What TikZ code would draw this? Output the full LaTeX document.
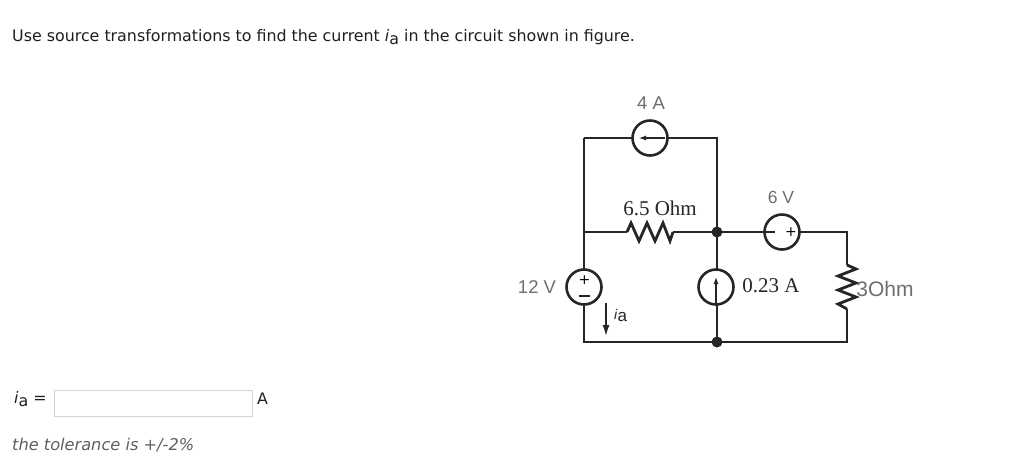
\documentclass[tikz,border=0pt]{standalone}
\usepackage{fontspec}
\usetikzlibrary{arrows.meta}
\setmainfont{DejaVu Sans}
\newfontfamily\labelserif{Liberation Serif}
\newfontfamily\labelsans{Liberation Sans}
\definecolor{wirecol}{HTML}{262626}
\definecolor{labgray}{HTML}{6E6E6E}
\definecolor{boxgray}{HTML}{D4D4D4}
\tikzset{
  wire/.style={draw=wirecol,line width=2.8pt},
  src/.style={circle,draw=wirecol,line width=2.6pt,fill=white,minimum size=35pt,inner sep=0pt},
  dot/.style={circle,fill=wirecol,minimum size=11pt,inner sep=0pt},
  thin arrow/.style={draw=wirecol,line width=1.1pt},
  pagetext/.style={font=\fontsize{15.85}{18}\selectfont,anchor=west,inner sep=0pt,text=black!88},
  glabel/.style={font=\labelsans\fontsize{18.5}{20}\selectfont,text=labgray,inner sep=0pt},
  slabel/.style={font=\labelserif\fontsize{21}{23}\selectfont,text=wirecol,inner sep=0pt}
}
\begin{document}
\begin{tikzpicture}[x=1pt,y=-1pt]
  \useasboundingbox (0,0) rectangle (1024,475);
  % corners
  \coordinate(tl) at (584,138);
  \coordinate(tr) at (717,138);
  \coordinate(ml) at (584,232);
  \coordinate(bl) at (584,342);
  \coordinate(mr) at (847,232);
  \coordinate(br) at (847,342);
  \coordinate(r1a) at (627,232);
  \coordinate(r1b) at (673,232);
  \coordinate(r2a) at (847,265);
  \coordinate(r2b) at (847,309);
  \node[dot](top) at (717,232){};
  \node[dot](bot) at (717,342){};
  % wires
  \draw[wire] (tl) -- (tr) -- (top.center);
  \draw[wire] (tl) -- (bl) -- (bot.center) -- (br) -- (r2b);
  \draw[wire] (ml) -- (r1a);
  \draw[wire] (r1b) -- (top.center) -- (bot.center);
  \draw[wire] (top.center) -- (mr) -- (r2a);
  \draw[wire,line join=miter] (r1a) -- ++(4,-9) -- ++(8,18) -- ++(8,-18) -- ++(8,18) -- ++(8,-18) -- ++(7,18) -- (r1b);
  \draw[wire,line join=miter] (r2a) -- ++(9,4) -- ++(-18,7) -- ++(18,7) -- ++(-18,7) -- ++(18,7) -- ++(-18,7) -- (r2b);
  % sources
  \node[src](sfour) at (650,138){};
  \node[src](stwelve) at (584,287){};
  \node[src](spoint) at (716,287){};
  \node[src](ssix) at (782,232){};
  \draw[thin arrow,-{Latex[length=7pt,width=5pt]}] (665,138) -- (639,138);
  \draw[thin arrow,-{Latex[length=7pt,width=5pt]}] (716,305) -- (716,277);
  \node[font=\fontsize{14}{15}\selectfont,inner sep=0pt] at (584.5,280){+};
  \draw[thin arrow] (579,296) -- (590,296);
  \node[font=\fontsize{14}{15}\selectfont,inner sep=0pt] at (791,232){+};
  \draw[thin arrow] (765,232) -- (775,232);
  % current arrow
  \coordinate(ia1) at (606,303);
  \coordinate(ia2) at (606,336);
  \draw[wire,line width=1.6pt,-{Latex[length=11pt,width=7pt]}] (ia1) -- (ia2);
  % labels
  \node[glabel](lfour) at (651,103){4 A};
  \node[glabel](ltwelve) at (537,287){12 V};
  \node[glabel,font=\labelsans\fontsize{17.5}{20}\selectfont](lsix) at (781,197){6 V};
  \node[slabel](lsixfive) at (660,208){6.5 Ohm};
  \node[slabel](lpoint) at (771,286){0.23 A};
  \node[glabel,font=\labelsans\fontsize{21}{23}\selectfont](lthree) at (885,289){3Ohm};
  \node[glabel,text=wirecol,anchor=west](lia) at (614,315){\fontsize{14}{15}\selectfont\textit{i}\raisebox{-2pt}{\fontsize{17}{18}\selectfont a}};
  % page text
  \node[pagetext](title) at (12,37.5){Use source transformations to find the current \textit{i}\raisebox{-2.5pt}{a} in the circuit shown in figure.};
  \node[pagetext](lans) at (14,399){\textit{i}\raisebox{-2.5pt}{a} =};
  \node[draw=boxgray,line width=.8pt,fill=white,anchor=north west,minimum width=198pt,minimum height=26pt,inner sep=0pt](answer) at (54,390){};
  \node[pagetext](unit) at (257,398.5){A};
  \node[pagetext,text=labgray!85!black,font=\fontsize{16.2}{18}\selectfont\itshape](tol) at (12,445){the tolerance is +/-2\%};
\end{tikzpicture}
\end{document}
